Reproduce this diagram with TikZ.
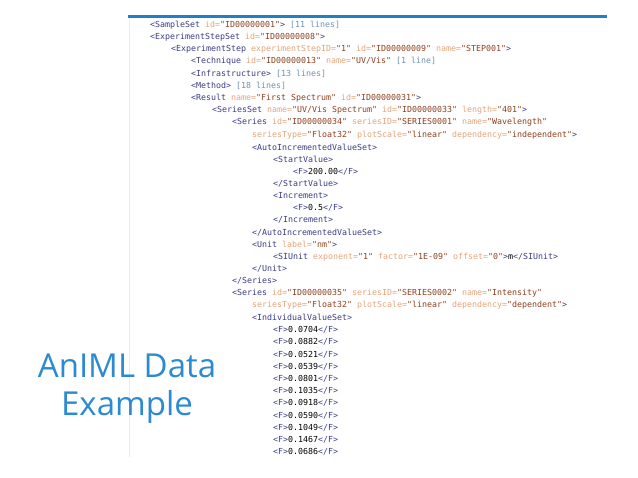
\documentclass[tikz,border=0pt]{standalone}
\usepackage{fontspec}
\newfontfamily\xm{DejaVu Sans Mono}
\newfontfamily\ttl{Open Sans}
\definecolor{tagc}{HTML}{3B3B86}
\definecolor{attc}{HTML}{E3A47A}
\definecolor{valc}{HTML}{8E3F1E}
\definecolor{foldc}{HTML}{6F90B4}
\definecolor{barc}{HTML}{1F80C8}
\definecolor{titc}{HTML}{2C8AD0}
\newcommand{\tg}[1]{\textcolor{tagc}{#1}}
\newcommand{\atr}[1]{\textcolor{attc}{#1}}
\newcommand{\vl}[1]{\textcolor{valc}{#1}}
\newcommand{\fd}[1]{\textcolor{foldc}{#1}}
\tikzset{xl/.style={anchor=west,inner sep=0pt,font=\xm\fontsize{8.3}{10}\selectfont}}
\begin{document}
\begin{tikzpicture}[x=1pt,y=-1pt]
\useasboundingbox (0,0) rectangle (638,478);
\fill[barc] (128,15) rectangle (607,18.5);
\draw[black!8] (129.5,18.5) -- (129.5,457);
\node[font=\ttl\fontsize{33}{38}\selectfont,text=titc,align=center] (title) at (127,389) {AnIML Data\\Example};
\def\dy{12.2}
\def\yy{25}
\node[xl] (l1) at (150,\yy) {\tg{<SampleSet} \atr{id=}\vl{"ID00000001"}\tg{>} \fd{[11 lines]}};
\node[xl] (l2) at (150,\yy+\dy) {\tg{<ExperimentStepSet} \atr{id=}\vl{"ID00000008"}\tg{>}};
\node[xl] (l3) at (171,\yy+2*\dy) {\tg{<ExperimentStep} \atr{experimentStepID=}\vl{"1"} \atr{id=}\vl{"ID00000009"} \atr{name=}\vl{"STEP001"}\tg{>}};
\node[xl] (l4) at (191,\yy+3*\dy) {\tg{<Technique} \atr{id=}\vl{"ID00000013"} \atr{name=}\vl{"UV/Vis"} \fd{[1 line]}};
\node[xl] (l5) at (191,\yy+4*\dy) {\tg{<Infrastructure>} \fd{[13 lines]}};
\node[xl] (l6) at (191,\yy+5*\dy) {\tg{<Method>} \fd{[18 lines]}};
\node[xl] (l7) at (191,\yy+6*\dy) {\tg{<Result} \atr{name=}\vl{"First Spectrum"} \atr{id=}\vl{"ID00000031"}\tg{>}};
\node[xl] (l8) at (212,\yy+7*\dy) {\tg{<SeriesSet} \atr{name=}\vl{"UV/Vis Spectrum"} \atr{id=}\vl{"ID00000033"} \atr{length=}\vl{"401"}\tg{>}};
\node[xl] (l9) at (232,\yy+8*\dy) {\tg{<Series} \atr{id=}\vl{"ID00000034"} \atr{seriesID=}\vl{"SERIES0001"} \atr{name=}\vl{"Wavelength"}};
\node[xl] (l10) at (252,\yy+9*\dy) {\atr{seriesType=}\vl{"Float32"} \atr{plotScale=}\vl{"linear"} \atr{dependency=}\vl{"independent"}\tg{>}};
\node[xl] (l11) at (252,\yy+10*\dy) {\tg{<AutoIncrementedValueSet>}};
\node[xl] (l12) at (273,\yy+11*\dy) {\tg{<StartValue>}};
\node[xl] (l13) at (293,\yy+12*\dy) {\tg{<F>}200.00\tg{</F>}};
\node[xl] (l14) at (273,\yy+13*\dy) {\tg{</StartValue>}};
\node[xl] (l15) at (273,\yy+14*\dy) {\tg{<Increment>}};
\node[xl] (l16) at (293,\yy+15*\dy) {\tg{<F>}0.5\tg{</F>}};
\node[xl] (l17) at (273,\yy+16*\dy) {\tg{</Increment>}};
\node[xl] (l18) at (252,\yy+17*\dy) {\tg{</AutoIncrementedValueSet>}};
\node[xl] (l19) at (252,\yy+18*\dy) {\tg{<Unit} \atr{label=}\vl{"nm"}\tg{>}};
\node[xl] (l20) at (273,\yy+19*\dy) {\tg{<SIUnit} \atr{exponent=}\vl{"1"} \atr{factor=}\vl{"1E-09"} \atr{offset=}\vl{"0"}\tg{>}m\tg{</SIUnit>}};
\node[xl] (l21) at (252,\yy+20*\dy) {\tg{</Unit>}};
\node[xl] (l22) at (232,\yy+21*\dy) {\tg{</Series>}};
\node[xl] (l23) at (232,\yy+22*\dy) {\tg{<Series} \atr{id=}\vl{"ID00000035"} \atr{seriesID=}\vl{"SERIES0002"} \atr{name=}\vl{"Intensity"}};
\node[xl] (l24) at (252,\yy+23*\dy) {\atr{seriesType=}\vl{"Float32"} \atr{plotScale=}\vl{"linear"} \atr{dependency=}\vl{"dependent"}\tg{>}};
\node[xl] (l25) at (252,\yy+24*\dy) {\tg{<IndividualValueSet>}};
\foreach \v [count=\i] in {0.0704,0.0882,0.0521,0.0539,0.0801,0.1035,0.0918,0.0590,0.1049,0.1467,0.0686}
  \node[xl] (f\i) at (273,\yy+24*\dy+\i*\dy) {\tg{<F>}\v\tg{</F>}};
\end{tikzpicture}
\end{document}
